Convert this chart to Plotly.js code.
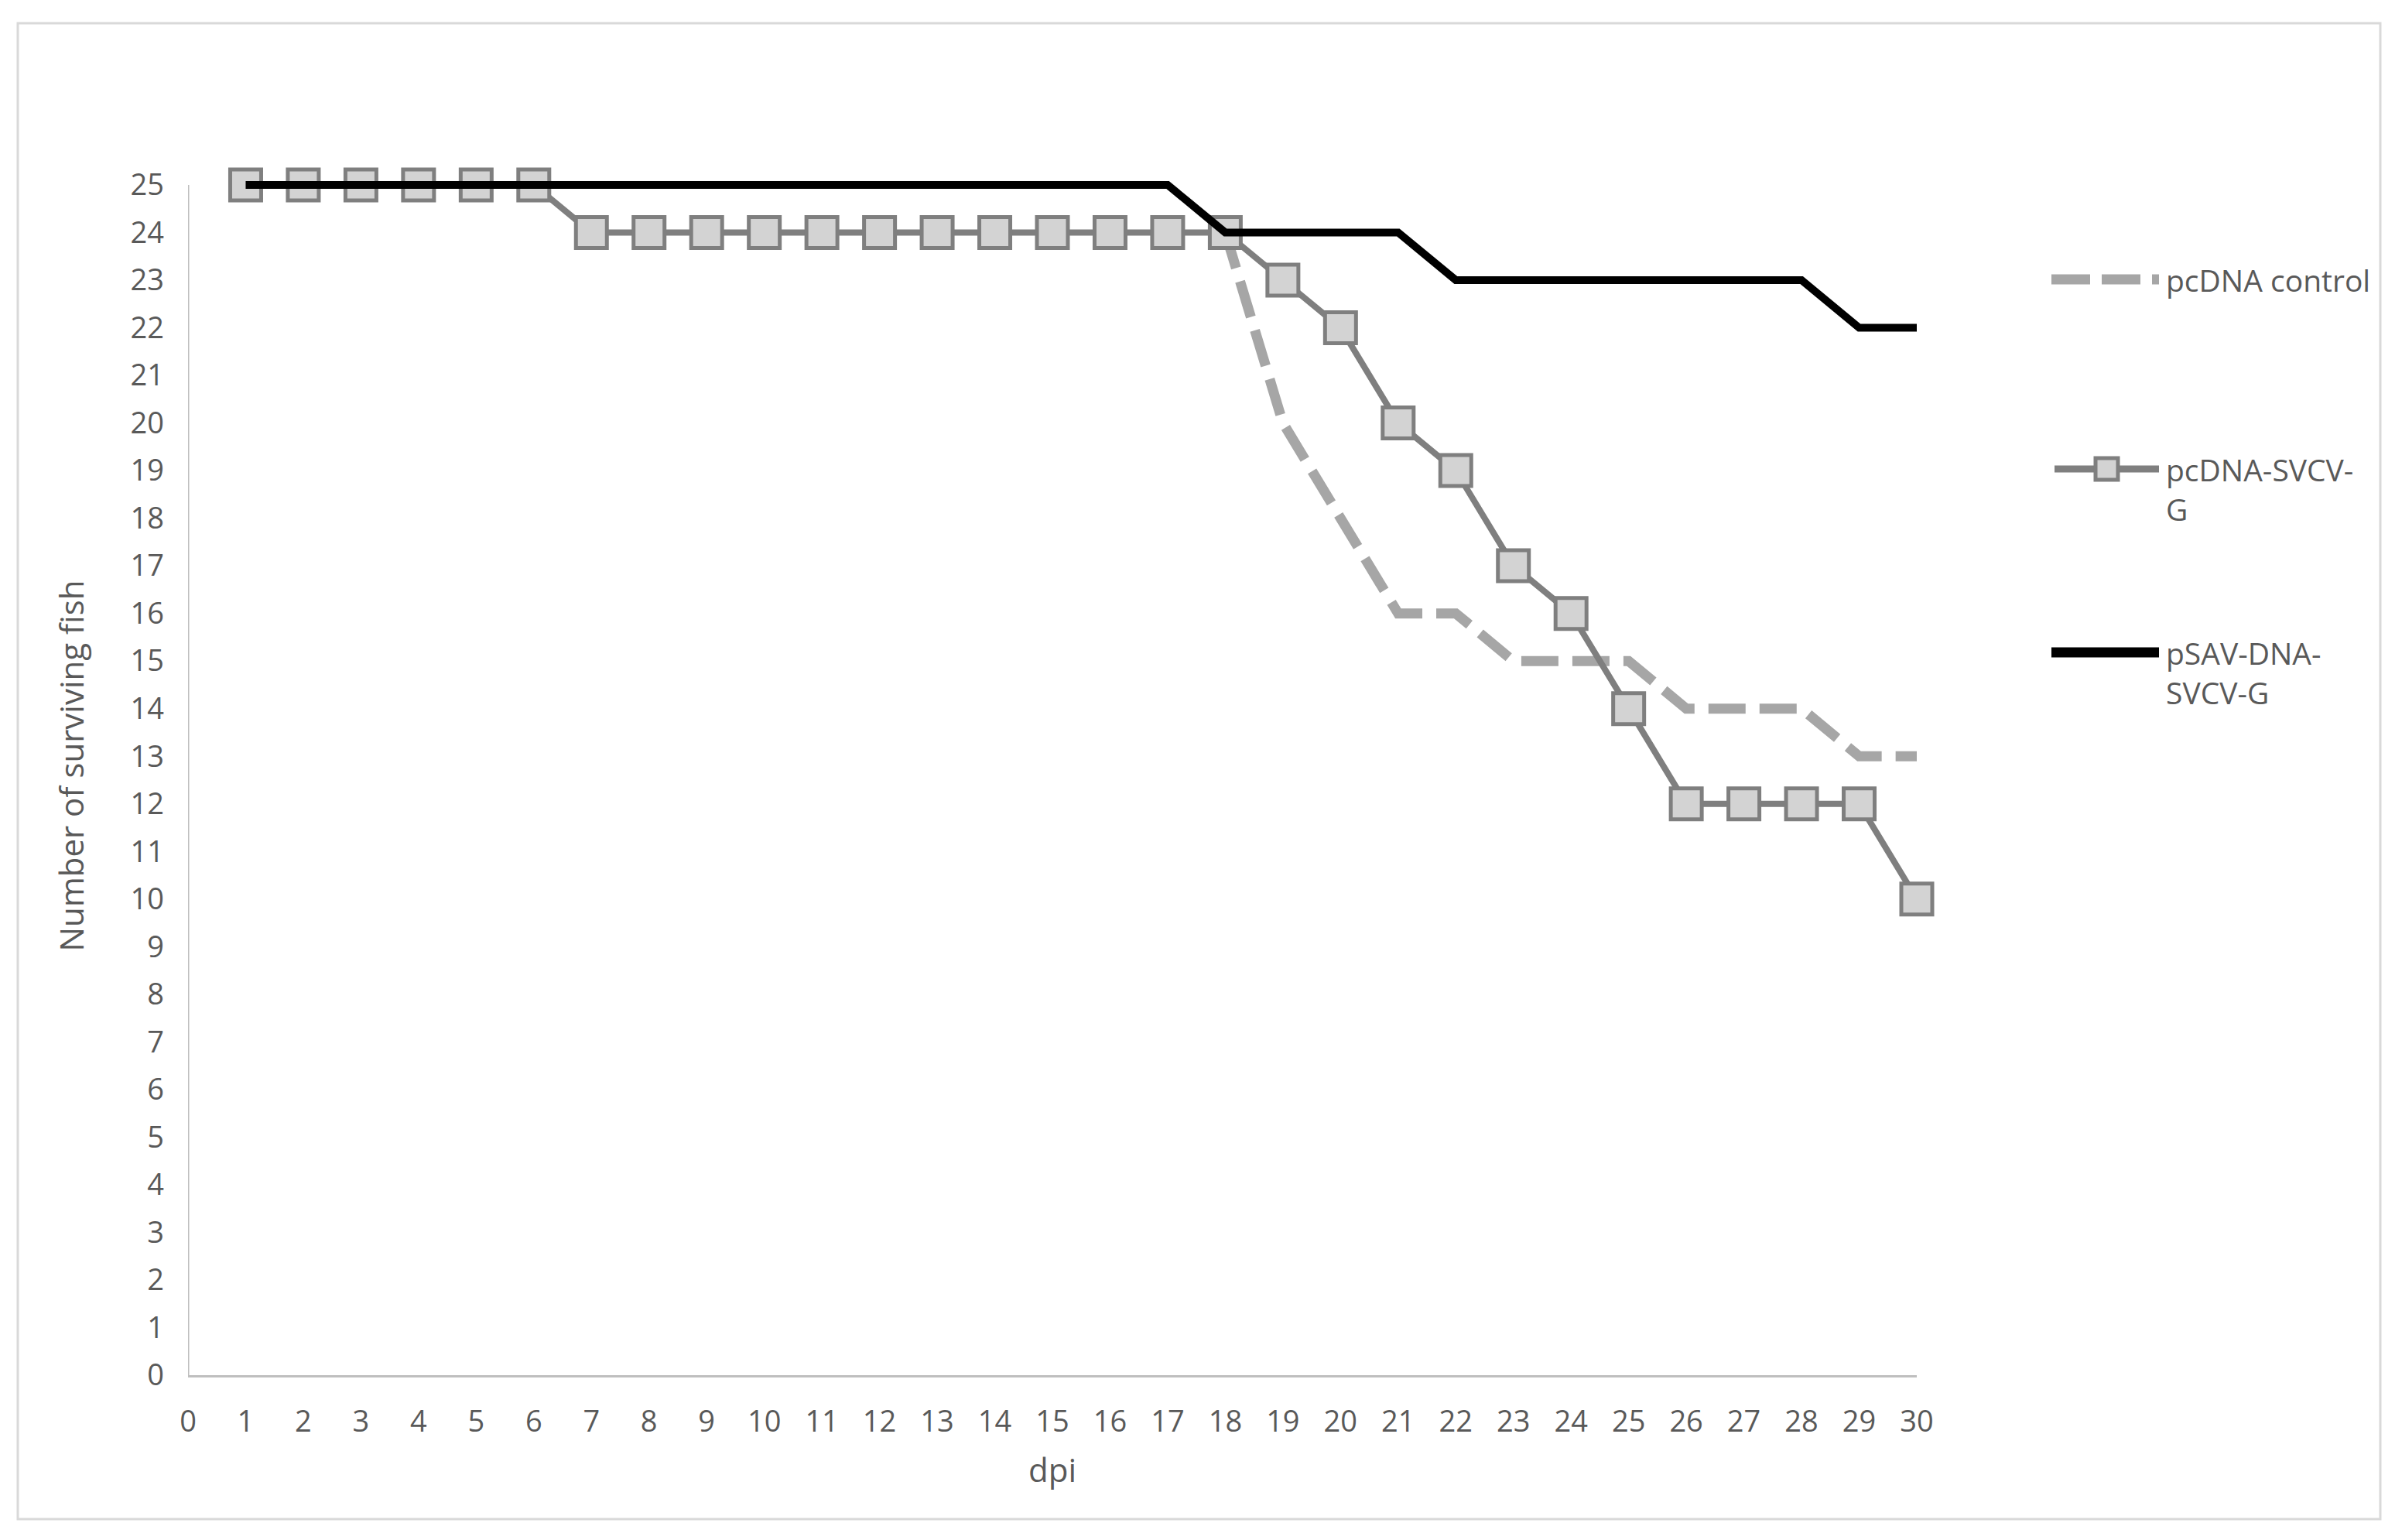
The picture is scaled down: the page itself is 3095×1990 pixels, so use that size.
<!DOCTYPE html>
<html>
<head>
<meta charset="utf-8">
<script src="https://cdn.plot.ly/plotly-3.0.1.min.js"></script>
<style>
  html, body { margin: 0; padding: 0; background: #ffffff; }
  #chart { width: 3095px; height: 1990px; }
</style>
</head>
<body>
<div id="chart"></div>
<script>
// ---- data ----
const dpi = [1,2,3,4,5,6,7,8,9,10,11,12,13,14,15,16,17,18,19,20,21,22,23,24,25,26,27,28,29,30];
const seriesNames = ["pcDNA control", "pcDNA-SVCV-G", "pSAV-DNA-SVCV-G"];
const legendLabels = ["pcDNA control", "pcDNA-SVCV-<br>G", "pSAV-DNA-<br>SVCV-G"];
// control line is only visible from day 18 on (hidden under the other series before)
const pcDNAControl = [null,null,null,null,null,null,null,null,null,null,null,null,null,null,null,null,null,24,20,18,16,16,15,15,15,14,14,14,13,13];
const pcDNASVCVG   = [25,25,25,25,25,25,24,24,24,24,24,24,24,24,24,24,24,24,23,22,20,19,17,16,14,12,12,12,12,10];
const pSAVDNASVCVG = [25,25,25,25,25,25,25,25,25,25,25,25,25,25,25,25,25,24,24,24,24,23,23,23,23,23,23,23,22,22];
const xTicks = [0,1,2,3,4,5,6,7,8,9,10,11,12,13,14,15,16,17,18,19,20,21,22,23,24,25,26,27,28,29,30];
const yTicks = [0,1,2,3,4,5,6,7,8,9,10,11,12,13,14,15,16,17,18,19,20,21,22,23,24,25];

// ---- geometry (pixels of the page) ----
const W = 3095, H = 1990;
const Y_AXIS_MAX = 25, Y_RANGE_MAX = 25.6;   // headroom so the top line is not clipped
const PL = 243, PR = 2477, PB = 1777, P25 = 239;
const PT = PB - (PB - P25) * Y_RANGE_MAX / Y_AXIS_MAX;
const pw = PR - PL, ph = PB - PT;
const fx = px => (px - PL) / pw;
const fy = py => (PB - py) / ph;

const FONT = "Open Sans, DejaVu Sans, sans-serif";
const TXT = "#595959";
const cControl = "#a6a6a6", cSVCV = "#7f7f7f", cFill = "#d3d3d3", cSAV = "#000000";
const cAxis = "#bfbfbf";

const traces = [
  {
    x: dpi, y: pcDNAControl, name: seriesNames[0], type: "scatter", mode: "lines",
    line: { color: cControl, width: 13, dash: "48px,18px" }, showlegend: false, cliponaxis: false
  },
  {
    x: dpi, y: pcDNASVCVG, name: seriesNames[1], type: "scatter", mode: "lines+markers",
    line: { color: cSVCV, width: 8 },
    marker: { symbol: "square", size: 40, color: cFill, line: { color: cSVCV, width: 5 } },
    showlegend: false, cliponaxis: false
  },
  {
    x: dpi, y: pSAVDNASVCVG, name: seriesNames[2], type: "scatter", mode: "lines",
    line: { color: cSAV, width: 10 }, showlegend: false, cliponaxis: false
  }
];

// manual legend (long symbols as in the original)
const legY = [361, 606, 843];
const lx0 = 2651, lx1 = 2790, ltx = 2797;
const shapes = [
  // outer chart border
  { type: "rect", xref: "paper", yref: "paper", x0: fx(23), x1: fx(3076), y0: fy(1963), y1: fy(30),
    line: { color: "#d9d9d9", width: 3 }, fillcolor: "rgba(0,0,0,0)", layer: "below" },
  // vertical axis line, ending at the top tick (25)
  { type: "line", xref: "x", yref: "y", x0: 0, x1: 0, y0: 0, y1: Y_AXIS_MAX,
    line: { color: cAxis, width: 3 }, layer: "below" },
  // legend symbols
  { type: "line", xref: "paper", yref: "paper", x0: fx(lx0), x1: fx(lx1), y0: fy(legY[0]), y1: fy(legY[0]),
    line: { color: cControl, width: 13, dash: "50px,15px" } },
  { type: "line", xref: "paper", yref: "paper", x0: fx(lx0 + 4), x1: fx(lx1), y0: fy(legY[1]), y1: fy(legY[1]),
    line: { color: cSVCV, width: 9 } },
  { type: "rect", xref: "paper", yref: "paper", x0: fx(2708), x1: fx(2737), y0: fy(legY[1] + 14), y1: fy(legY[1] - 14),
    line: { color: cSVCV, width: 5 }, fillcolor: cFill },
  { type: "line", xref: "paper", yref: "paper", x0: fx(lx0), x1: fx(lx1), y0: fy(legY[2]), y1: fy(legY[2]),
    line: { color: cSAV, width: 13 } }
];
const annotations = legendLabels.map((t, i) => ({
  xref: "paper", yref: "paper", x: fx(ltx), y: fy(legY[i] - 28),
  xanchor: "left", yanchor: "top", align: "left", showarrow: false,
  text: t, font: { family: FONT, size: 39, color: TXT }
}));

const layout = {
  width: W, height: H,
  margin: { l: PL, r: W - PR, t: PT, b: H - PB, pad: 0 },
  paper_bgcolor: "#ffffff", plot_bgcolor: "#ffffff",
  showlegend: false,
  font: { family: FONT, color: TXT, size: 38 },
  xaxis: {
    range: [0, 30], tickmode: "array", tickvals: xTicks, ticktext: xTicks.map(String),
    showgrid: false, zeroline: false, showline: true, linecolor: cAxis, linewidth: 3,
    ticks: "", ticklabelstandoff: 24,
    tickfont: { family: FONT, size: 38, color: TXT },
    title: { text: "dpi", font: { family: FONT, size: 42, color: TXT }, standoff: 26 },
    automargin: false, fixedrange: true
  },
  yaxis: {
    range: [0, Y_RANGE_MAX], tickmode: "array", tickvals: yTicks, ticktext: yTicks.map(String),
    showgrid: false, zeroline: false, showline: false,
    ticks: "", ticklabelstandoff: 30,
    tickfont: { family: FONT, size: 38, color: TXT },
    title: { text: "Number of surviving fish", font: { family: FONT, size: 42, color: TXT }, standoff: 46 },
    automargin: false, fixedrange: true
  },
  shapes: shapes,
  annotations: annotations
};

Plotly.newPlot("chart", traces, layout, { displayModeBar: false, staticPlot: true });
</script>
</body>
</html>
